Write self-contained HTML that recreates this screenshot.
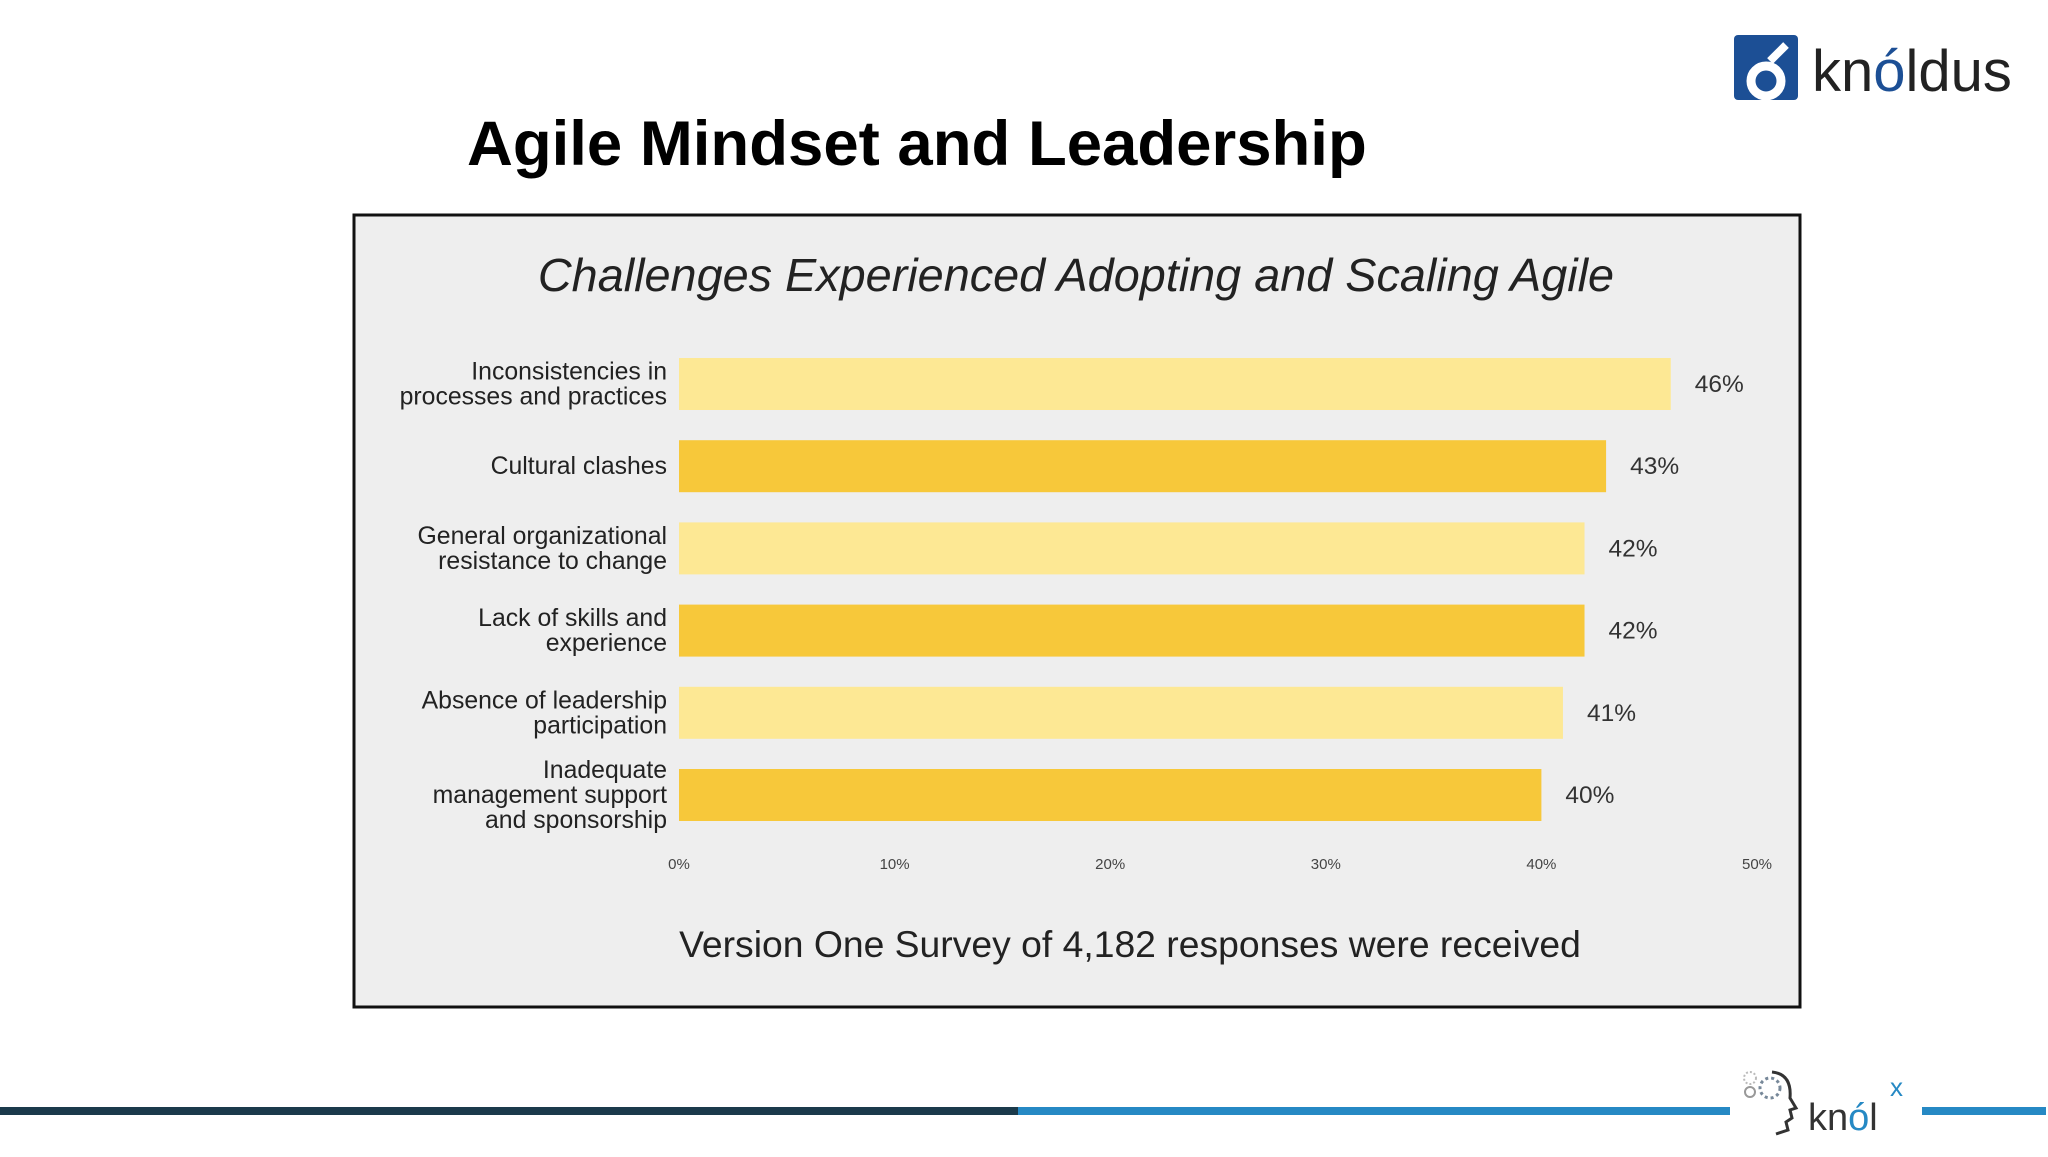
<!DOCTYPE html>
<html><head><meta charset="utf-8"><style>
html,body{margin:0;padding:0;background:#fff;}
body{width:2048px;height:1152px;position:relative;overflow:hidden;font-family:"Liberation Sans",sans-serif;}
</style></head><body>
<div style="position:absolute;left:1734px;top:35px;">
<svg width="300" height="70">
<rect x="0" y="0" width="64" height="65" rx="4" fill="#1c4f95"/>
<circle cx="32" cy="46" r="15" fill="none" stroke="#fff" stroke-width="9"/>
<path d="M36 26 L52 10" stroke="#fff" stroke-width="8"/>
<text x="78" y="56" font-family="Liberation Sans, sans-serif" font-size="58" fill="#222">kn<tspan fill="#1c4f95">ó</tspan>ldus</text>
</svg></div>
<div style="position:absolute;left:467px;top:108px;font-size:63.5px;font-weight:bold;color:#000;">Agile Mindset and Leadership</div>
<svg width="2048" height="1152" style="position:absolute;left:0;top:0">
<rect x="354" y="215" width="1446" height="792" fill="#eeeeee" stroke="#111" stroke-width="3"/>
<text x="1076" y="291" text-anchor="middle" font-style="italic" font-size="46.8" fill="#222">Challenges Experienced Adopting and Scaling Agile</text>
<g id="bars"></g>
<text x="1130" y="957" text-anchor="middle" font-size="37.3" fill="#222">Version One Survey of 4,182 responses were received</text>
</svg>
<div style="position:absolute;left:0;top:1107px;width:1018px;height:8px;background:#1b3a4b;"></div>
<div style="position:absolute;left:1018px;top:1107px;width:712px;height:8px;background:#2689c4;"></div>
<div style="position:absolute;left:1922px;top:1107px;width:124px;height:8px;background:#2689c4;"></div>
<div style="position:absolute;left:1730px;top:1052px;width:192px;height:100px;background:#fff;">
<svg width="192" height="100"><circle cx="20" cy="26" r="6" fill="none" stroke="#bbb" stroke-width="2" stroke-dasharray="2 2"/><circle cx="20" cy="40" r="5" fill="none" stroke="#999" stroke-width="2"/><circle cx="40" cy="36" r="10" fill="none" stroke="#789" stroke-width="3" stroke-dasharray="3 3"/>
<path d="M42 20 Q62 22 60 46 L66 56 L60 58 L62 66 L56 70 L58 78 L46 82" fill="none" stroke="#333" stroke-width="3"/>
<text x="78" y="78" font-size="38" font-family="Liberation Sans, sans-serif" fill="#333">kn<tspan fill="#2689c4">ó</tspan>l</text>
<text x="160" y="44" font-size="26" fill="#2689c4">x</text></svg></div>
<script>
const categories=[["Inconsistencies in","processes and practices"],["Cultural clashes"],["General organizational","resistance to change"],["Lack of skills and","experience"],["Absence of leadership","participation"],["Inadequate","management support","and sponsorship"]];
const values=[46,43,42,42,41,40];
const valueLabels=["46%","43%","42%","42%","41%","40%"];
const ticks=[0,10,20,30,40,50];
const NS="http://www.w3.org/2000/svg";
const g=document.getElementById('bars');
const x0=679,pxPer=(1757-679)/50;
const xs=v=>x0+v*pxPer;
const yc=i=>384+i*82.2;
function mk(tag,attrs,text){const e=document.createElementNS(NS,tag);for(const k in attrs)e.setAttribute(k,attrs[k]);if(text!==undefined)e.textContent=text;g.appendChild(e);return e;}
values.forEach((v,i)=>{
 const r=mk('rect',{x:x0,y:yc(i)-26,width:xs(v)-x0,height:52,fill:i%2?'#f7c83a':'#fde894'});
 
 
 const t=mk('text',{x:xs(v)+24,y:yc(i)+8,'font-size':24.5,fill:'#333'},valueLabels[i]);
 
 
 const lines=categories[i];const lh=25;const start=yc(i)+8-(lines.length-1)*lh/2;
 lines.forEach((ln,j)=>{const c=mk('text',{x:667,y:start+j*lh,'text-anchor':'end','font-size':24.8,fill:'#222'},ln);
 
 });
});
ticks.forEach(t=>{const e=mk('text',{x:xs(t),y:869,'text-anchor':'middle','font-size':15,fill:'#444'},t+'%');
 
 });
</script>
</body></html>
